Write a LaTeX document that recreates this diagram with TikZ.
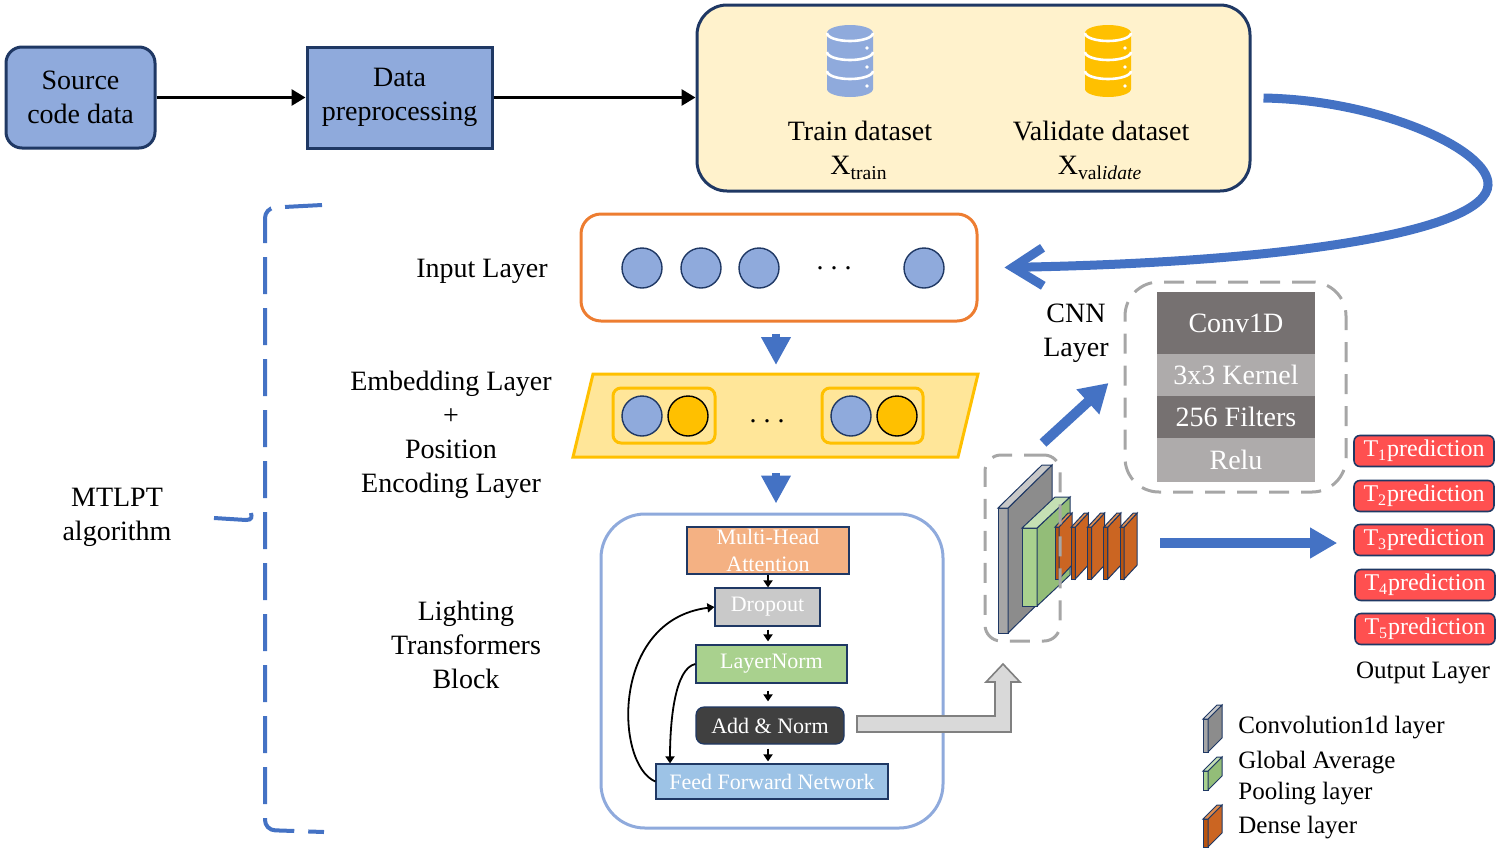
\documentclass[tikz,border=0pt]{standalone}
\usepackage{fontspec}
\setmainfont{Liberation Serif}
\usetikzlibrary{arrows.meta,fit}
\definecolor{navy}{HTML}{1F3864}
\definecolor{lblue}{HTML}{8FAADC}
\definecolor{cream}{HTML}{FFF2CC}
\definecolor{orng}{HTML}{ED7D31}
\definecolor{arrblue}{HTML}{4472C4}
\definecolor{gold}{HTML}{FFC000}
\definecolor{paleyel}{HTML}{FFE699}
\definecolor{dgray}{HTML}{767171}
\definecolor{mgray}{HTML}{AEABAB}
\definecolor{dashgray}{HTML}{A6A6A6}
\definecolor{predred}{HTML}{FF5050}
\definecolor{mhacol}{HTML}{F4B183}
\definecolor{dropcol}{HTML}{C9C9C9}
\definecolor{lncol}{HTML}{A9D18E}
\definecolor{addcol}{HTML}{404040}
\definecolor{ffncol}{HTML}{9DC3E6}
\definecolor{gfront}{HTML}{A6A6A6}
\definecolor{gside}{HTML}{8C8C8C}
\definecolor{gtop}{HTML}{C8C8C8}
\definecolor{grfront}{HTML}{A9D18E}
\definecolor{grside}{HTML}{93BD78}
\definecolor{grtop}{HTML}{C5E0B4}
\definecolor{orfront}{HTML}{B9540F}
\definecolor{orside}{HTML}{CB6522}
\definecolor{ortop}{HTML}{E08D4F}
\newcommand\fbig{\fontsize{14}{17}\selectfont}
\newcommand\fsm{\fontsize{11}{13.5}\selectfont}
\newcommand\fleg{\fontsize{12.5}{15.5}\selectfont}
\newcommand\fpred{\fontsize{12}{14}\selectfont}
\newcommand\myslab[9]{%
  \filldraw[slabline,fill=#7] (#1,#2) rectangle (#1+#3,#2+#4);
  \filldraw[slabline,fill=#8] (#1+#3,#2) -- (#1+#3+#5,#2+#6) -- (#1+#3+#5,#2+#4+#6) -- (#1+#3,#2+#4) -- cycle;
  \filldraw[slabline,fill=#9] (#1,#2) -- (#1+#5,#2+#6) -- (#1+#3+#5,#2+#6) -- (#1+#3,#2) -- cycle;}
\newcommand\dbicon[2]{%
  \fill[#2] (#1-23,33) -- (#1-23,89) arc[start angle=180,end angle=360,x radius=11.5pt,y radius=4pt] -- (#1+23,33) arc[start angle=0,end angle=180,x radius=11.5pt,y radius=4pt] -- cycle;
  \foreach \yy in {33,52,71}{\draw[white,line width=1.3pt] (#1-23,\yy) arc[start angle=180,end angle=360,x radius=11.5pt,y radius=4pt];}
  \foreach \yy in {48,67,86}{\fill[white] (#1+17,\yy) circle[radius=0.9pt];}}
\begin{document}
\begin{tikzpicture}[x=0.5pt,y=-0.5pt,
  slabline/.style={draw=navy,line width=0.5pt},
  txt/.style={font=\fbig,align=center,inner sep=0pt},
  legtxt/.style={font=\fleg,align=center,inner sep=0pt},
  bluebox/.style={draw=navy,fill=lblue,line width=1.5pt,inner sep=0pt,font=\fbig,align=center},
  databox/.style={draw=navy,fill=cream,line width=1.5pt,rounded corners=15pt,inner sep=0pt},
  inbox/.style={draw=orng,line width=1.5pt,rounded corners=10pt,inner sep=0pt},
  neuron/.style={circle,draw=navy,fill=lblue,line width=0.7pt,minimum size=20pt,inner sep=0pt},
  posn/.style={circle,draw=black,fill=gold,line width=0.7pt,minimum size=20pt,inner sep=0pt},
  pairbox/.style={draw=gold,fill=paleyel,line width=1.5pt,rounded corners=4pt,inner sep=0pt},
  embpara/.style={draw=gold,fill=paleyel,line width=1.5pt},
  tfbox/.style={draw=lblue,line width=1.5pt,rounded corners=22pt,inner sep=0pt},
  layerbox/.style={draw=navy,line width=0.6pt,inner sep=0pt,font=\fsm,text=white,align=center},
  flowarrow/.style={-{Triangle[length=7pt,width=8pt]},line width=1.5pt},
  tinyarrow/.style={-{Triangle[length=3.5pt,width=4.5pt]},line width=0.9pt},
  blockdown/.style={draw=arrblue,-{Triangle[length=14pt,width=14pt]},line width=4pt},
  bigcurve/.style={draw=arrblue,line width=4.5pt,-{Straight Barb[length=15pt,width=19pt]}},
  bluethick/.style={draw=arrblue,line width=5pt,-{Triangle[length=14pt,width=16pt]}},
  grayarrow/.style={fill=black!15,draw=black!50,line width=0.8pt},
  cnndash/.style={draw=dashgray,line width=1.5pt,dash pattern=on 10pt off 6pt,inner sep=0pt},
  tabrow/.style={inner sep=0pt,font=\fbig,text=white,minimum width=79pt},
  pred/.style={draw=navy,fill=predred,line width=0.8pt,rounded corners=3pt,minimum width=70pt,minimum height=15.5pt,inner sep=0pt,font=\fpred,text=white},
  brack/.style={draw=arrblue,line width=2pt,dash pattern=on 18.5pt off 7pt,rounded corners=5pt},
  brackline/.style={draw=arrblue,line width=2pt}
]
\useasboundingbox (0,0) rectangle (1498,852);

% ---------- top row ----------
\node[bluebox,rounded corners=8pt,minimum width=74.5pt,minimum height=50.5pt] (src) at (80.5,97.5) {Source\\code data};
\node[bluebox,minimum width=92.5pt,minimum height=50.5pt] (prep) at (399.5,97.5) {Data\\preprocessing};
\node[databox,fit={(697,5)(1250,191)}] (dbox) {};
\draw[flowarrow] (src) -- (prep);
\draw[flowarrow] (prep.east) -- (prep.east -| dbox.west);
\dbicon{850}{lblue}
\dbicon{1108}{gold}
\node[txt] (trn) at (860,131) {Train dataset};
\node[txt] (trnx) at (859,168) {X$_{\mathrm{train}}$};
\node[txt] (val) at (1101,131) {Validate dataset};
\node[txt] (valx) at (1100,168) {X$_{\mathrm{val}\mathit{idate}}$};

% ---------- bracket ----------
\draw[brack] (322,205) -- (265,208) -- (265,830) -- (324,832);
\draw[brackline] (214,518) -- (246,520) .. controls (252,520) and (252,517) .. (251,513);
\node[txt] (mtl) at (117,517) {MTLPT\\algorithm};

% ---------- input layer ----------
\node[inbox,fit={(581,214)(977,321)}] (inl) {};
\node[neuron] (n1) at (642,268) {};
\node[neuron] (n2) at (701,268) {};
\node[neuron] (n3) at (759,268) {};
\node[neuron] (n4) at (924,268) {};
\node[txt] (idots) at (834,268) {.\ .\ .};
\node[txt] (linl) at (482,271) {Input Layer};

% ---------- embedding ----------
\draw[embpara] (573,457) -- (593,374) -- (978,374) -- (958,457) -- cycle;
\coordinate (embtop) at (776,374);
\coordinate (embbot) at (776,457);
\node[pairbox,fit={(613,388)(715,443)}] (pr1) {};
\node[pairbox,fit={(822,388)(923,443)}] (pr2) {};
\node[neuron] (e1) at (642,416) {};
\node[posn] (e2) at (688,416) {};
\node[neuron] (e3) at (851,416) {};
\node[posn] (e4) at (897,416) {};
\node[txt] (edots) at (767,421) {.\ .\ .};
\node[txt] (lemb) at (451,435) {Embedding Layer\\+\\Position\\Encoding Layer};

% ---------- transformer block ----------
\node[tfbox,fit={(601,514)(943,828)}] (tf) {};
\node[layerbox,fill=mhacol,minimum width=81pt,minimum height=23.5pt] (mha) at (768,550.5) {Multi-Head\\Attention};
\node[layerbox,fill=dropcol,minimum width=52.5pt,minimum height=19pt] (drop) at (767.5,607) {Dropout};
\node[layerbox,fill=lncol,minimum width=75.5pt,minimum height=19pt] (lnorm) at (771.5,664) {LayerNorm};
\node[layerbox,fill=addcol,rounded corners=4pt,minimum width=74pt,minimum height=18.5pt] (addn) at (770,725.5) {Add \& Norm};
\node[layerbox,fill=ffncol,minimum width=116pt,minimum height=17.5pt] (ffn) at (772,781.5) {Feed Forward Network};
\node[txt] (ltf) at (466,645) {Lighting\\Transformers\\Block};

\draw[tinyarrow] (mha.south) -- (mha.south |- drop.north);
\draw[tinyarrow,shorten <=1.5pt,shorten >=1.5pt] (mha.south |- drop.south) -- (mha.south |- lnorm.north);
\draw[tinyarrow,shorten <=3.5pt,shorten >=2.5pt] (mha.south |- lnorm.south) -- (mha.south |- addn.north);
\draw[tinyarrow,shorten <=2pt,shorten >=1pt] (mha.south |- addn.south) -- (mha.south |- ffn.north);
\draw[tinyarrow] (ffn.west) .. controls (615,765) and (610,620) .. (drop.west);
\draw[tinyarrow] (lnorm.west) .. controls (675,668) and (670,720) .. ([xshift=-51pt]ffn.north);

\draw[blockdown,shorten <=5.5pt,shorten >=4.5pt] (embtop |- inl.south) -- (embtop);
\draw[blockdown,shorten <=8pt,shorten >=4.5pt] (embbot) -- (embbot |- tf.north);

% gray block arrow
\filldraw[grayarrow] (857,716) -- (995,716) -- (995,682) -- (986,682) -- (1003,664) -- (1020,682) -- (1011,682) -- (1011,732) -- (857,732) -- cycle;

% ---------- CNN stack ----------
\myslab{998}{508}{10}{125}{44}{-43}{gfront}{gside}{gtop}
\myslab{1022}{528}{15}{78}{33}{-31}{grfront}{grside}{grtop}
\foreach \k in {0,...,4}{\myslab{1055+16.3*\k}{527}{4}{52}{13}{-14}{orfront}{orside}{ortop}}
\node[cnndash,rounded corners=8pt,fit={(985,455)(1060,641)}] (stack) {};
\coordinate (stk1) at (1043,443);
\coordinate (stk2) at (1160,543);

\node[cnndash,rounded corners=17pt,fit={(1125,282)(1346,492)}] (cnnbox) {};
\node[tabrow,fill=dgray,minimum height=31pt] (conv) at (1236,323) {Conv1D};
\node[tabrow,fill=mgray,minimum height=21pt] (kern) at (1236,375) {3x3 Kernel};
\node[tabrow,fill=dgray,minimum height=21pt] (filt) at (1236,417) {256 Filters};
\node[tabrow,fill=mgray,minimum height=22pt] (relu) at (1236,460) {Relu};
\node[txt] (cnnl) at (1076,333) {CNN\\Layer};

\draw[bluethick] (stk1) -- ([xshift=-7.5pt,yshift=2pt]cnnbox.west);

% ---------- predictions ----------
\node[pred] (p1) at (1424,451) {T\textsubscript{1}prediction};
\node[pred] (p2) at (1424,496) {T\textsubscript{2}prediction};
\node[pred] (p3) at (1424,540) {T\textsubscript{3}prediction};
\node[pred] (p4) at (1425,585) {T\textsubscript{4}prediction};
\node[pred] (p5) at (1425,629) {T\textsubscript{5}prediction};
\node[legtxt] (outl) at (1423,673) {Output Layer};
\draw[draw=arrblue,line width=5pt,-{Triangle[length=13.5pt,width=14.5pt]},shorten >=8pt] (stk2) -- (stk2 -| p3.west);

% ---------- big curved arrow ----------
\draw[bigcurve] ([xshift=6pt]dbox.east) .. controls (1380,100) and (1490,150) .. (1488,185) .. controls (1486,230) and (1300,262) .. ([xshift=13pt]inl.east);

% ---------- legend ----------
\myslab{1203}{719}{5}{33}{14}{-14}{gfront}{gside}{gtop}
\myslab{1203}{771}{5}{19}{14}{-14}{grfront}{grside}{grtop}
\myslab{1203}{819}{5}{28}{14}{-14}{orfront}{orside}{ortop}
\node[legtxt,anchor=west] (lg1) at (1238,728) {Convolution1d layer};
\node[legtxt,anchor=west] (lg2) at (1238,763) {Global Average};
\node[legtxt,anchor=west] (lg3) at (1238,794) {Pooling layer};
\node[legtxt,anchor=west] (lg4) at (1238,828) {Dense layer};
\end{tikzpicture}
\end{document}
